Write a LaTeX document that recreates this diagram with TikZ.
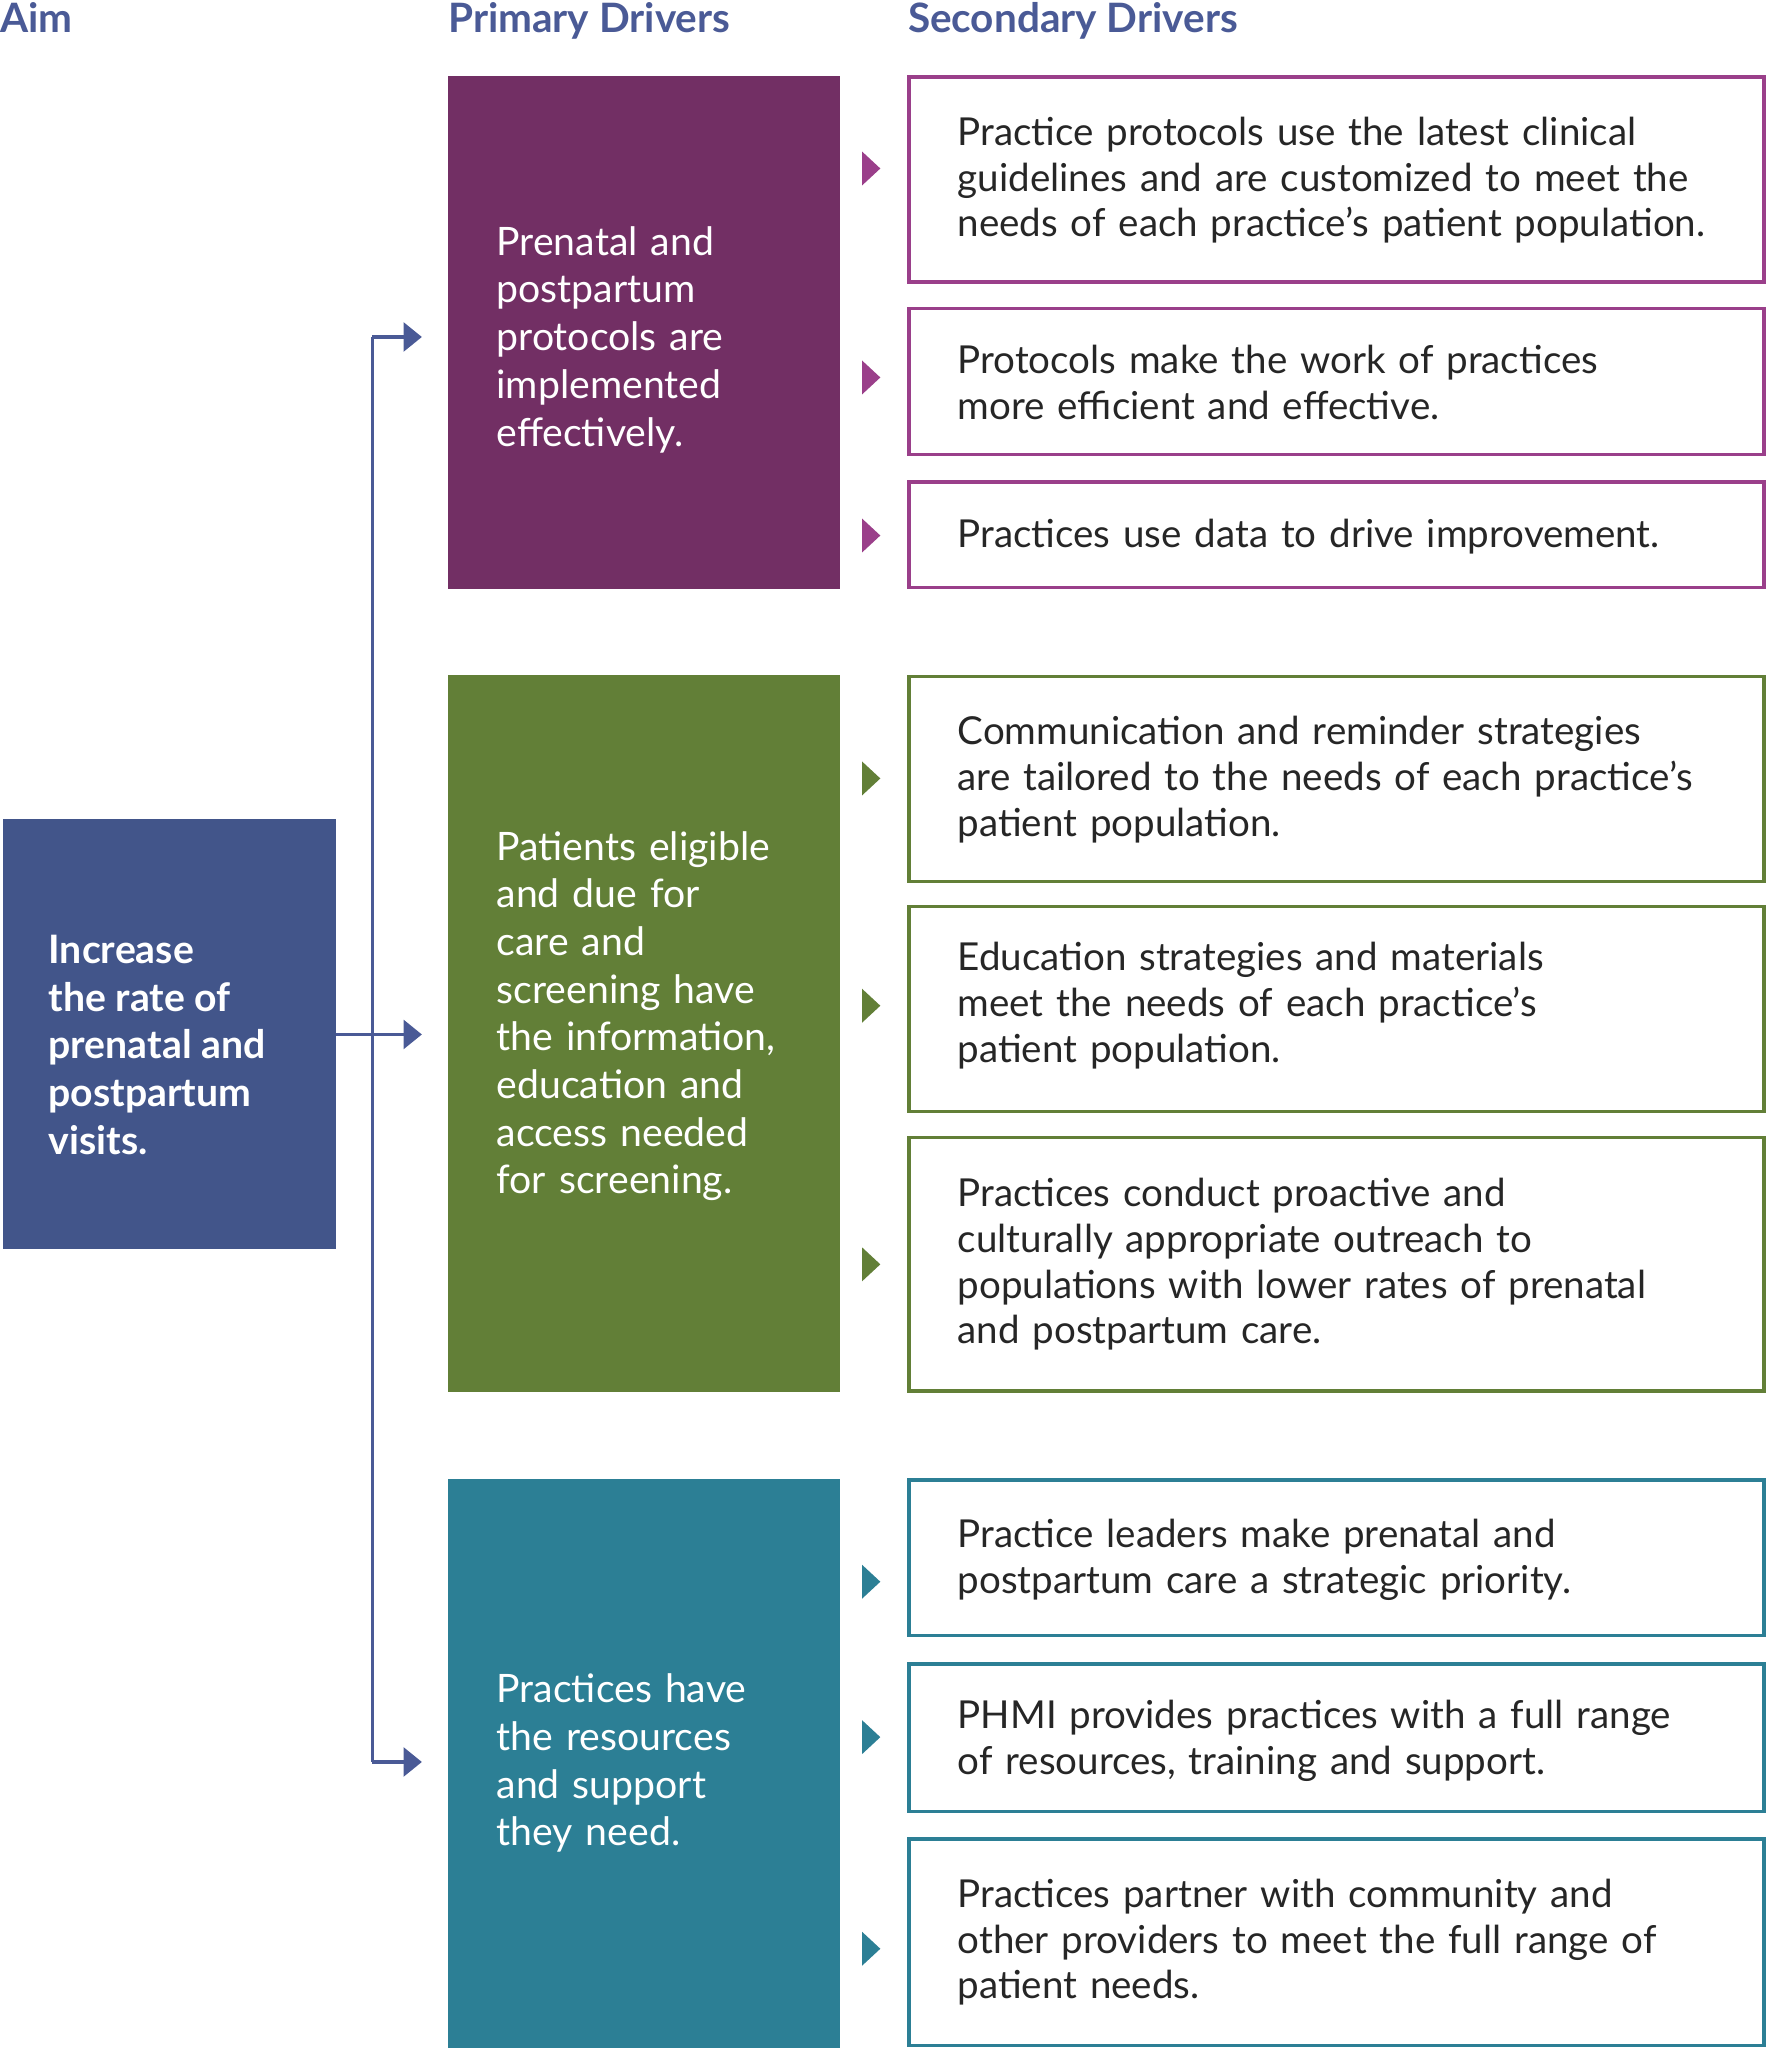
\documentclass[tikz,border=0pt]{standalone}
\usepackage{fontspec}
\setmainfont{Lato}
\usetikzlibrary{arrows.meta}
\definecolor{hblue}{HTML}{4A5A96}
\definecolor{aimb}{HTML}{42558A}
\definecolor{pur}{HTML}{722F64}
\definecolor{purl}{HTML}{9A3F8A}
\definecolor{grn}{HTML}{627F37}
\definecolor{tea}{HTML}{2C7F95}
\begin{document}
\begin{tikzpicture}[x=1pt,y=-1pt,
 head/.style={anchor=base west,inner sep=0,font=\fontsize{31}{34}\selectfont\bfseries,text=hblue},
 prim/.style={anchor=west,inner sep=0,text=white,align=left,text width=260pt,font=\fontsize{30}{36.5}\selectfont},
 sec/.style={anchor=west,inner sep=0,align=left,text width=610pt,font=\fontsize{29.5}{35}\selectfont,text=black!85},
 sbox/.style={draw=#1,line width=2.6pt},
 conn/.style={draw=hblue,line width=2.6pt},
 arr/.style={conn,-{Triangle[length=14pt,width=22pt]}}]
\useasboundingbox (0,0) rectangle (1352,1568);
\node[head] (h1) at (0,25) {Aim};
\node[head] (h2) at (343,25) {Primary Drivers};
\node[head] (h3) at (695,25) {Secondary Drivers};
% aim
\fill[aimb] (2,627) rectangle (257,956);
\node[anchor=west,inner sep=0,text=white,align=left,font=\fontsize{30}{36.5}\selectfont\bfseries] (aim) at (37,800) {Increase\\the rate of\\prenatal and\\postpartum\\visits.};
\coordinate (aimR) at (257,792);
% primary
\fill[pur] (343,58) rectangle (643,451);
\fill[grn] (343,517) rectangle (643,1066);
\fill[tea] (343,1132) rectangle (643,1568);
\node[prim] (p1) at (380,260) {Prenatal and\\postpartum\\protocols are\\implemented\\effectively.};
\node[prim] (p2) at (380,778) {Patients eligible\\and due for\\care and\\screening have\\the information,\\education and\\access needed\\for screening.};
\node[prim] (p3) at (380,1350) {Practices have\\the resources\\and support\\they need.};
\coordinate (t1) at (323,258);
\coordinate (t2) at (323,792);
\coordinate (t3) at (323,1349);
\coordinate (jt) at (285,258);
\coordinate (jb) at (285,1349);
\draw[conn] (aimR) -- (285,792);
\draw[conn] (jt) -- (jb);
\draw[arr] (jt) -- (t1);
\draw[arr] (285,792) -- (t2);
\draw[arr] (jb) -- (t3);
% secondary boxes
\foreach \a/\b/\c/\m in {59/216/purl/129,236/348/purl/289,369/450/purl/410,518/675/grn/596,694/851/grn/770,871/1065/grn/968,1133/1252/tea/1211,1274/1387/tea/1330,1408/1566/tea/1492}{
 \draw[sbox=\c] (696,\a) rectangle (1350.5,\b);
 \fill[\c] (660,\m-13) -- (674,\m) -- (660,\m+13) -- cycle;}
\node[sec] (s1) at (733,138) {Practice protocols use the latest clinical\\guidelines and are customized to meet the\\needs of each practice’s patient population.};
\node[sec] (s2) at (733,293) {Protocols make the work of practices\\more efficient and effective.};
\node[sec] (s3) at (733,411) {Practices use data to drive improvement.};
\node[sec] (s4) at (733,597) {Communication and reminder strategies\\are tailored to the needs of each practice’s\\patient population.};
\node[sec] (s5) at (733,770) {Education strategies and materials\\meet the needs of each practice’s\\patient population.};
\node[sec] (s6) at (733,968) {Practices conduct proactive and\\culturally appropriate outreach to\\populations with lower rates of prenatal\\and postpartum care.};
\node[sec] (s7) at (733,1194) {Practice leaders make prenatal and\\postpartum care a strategic priority.};
\node[sec] (s8) at (733,1333) {PHMI provides practices with a full range\\of resources, training and support.};
\node[sec] (s9) at (733,1487) {Practices partner with community and\\other providers to meet the full range of\\patient needs.};
\end{tikzpicture}
\end{document}
